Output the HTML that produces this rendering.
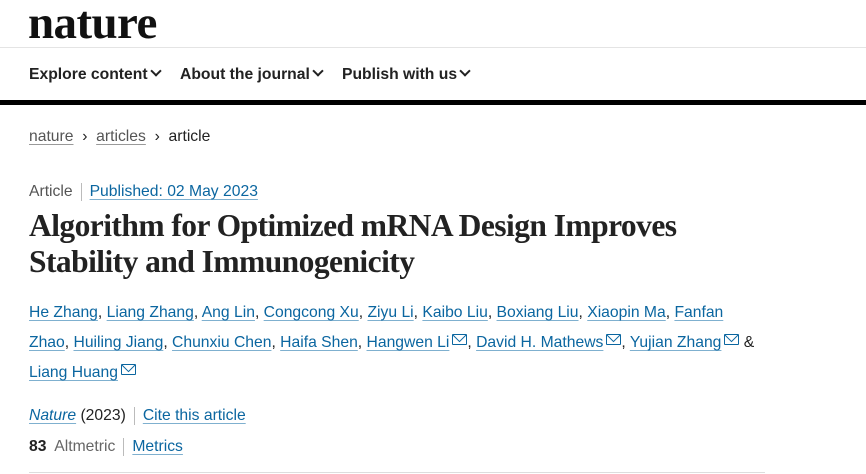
<!DOCTYPE html>
<html><head><meta charset="utf-8"><style>
body{margin:0;width:866px;height:474px;background:#fff;overflow:hidden;position:relative;font-family:"Liberation Sans",sans-serif;color:#222}
.a{position:absolute;white-space:nowrap}
a,.l{color:#0b66a0;text-decoration:underline;text-decoration-color:#7fb0cf;text-underline-offset:3px}
.g{color:#555;text-decoration-color:#999}
.nav{font-size:15.7px;font-weight:bold;color:#222}
.car{display:inline-block;width:6px;height:6px;border-right:2px solid #222;border-bottom:2px solid #222;transform:rotate(45deg);margin:0 0 4px 4px}
.sep{display:inline-block;width:1px;height:18px;background:#bbb;vertical-align:middle;margin:0 8px}
.m{display:inline-block;width:13px;height:9px;border:1.3px solid #0b66a0;border-radius:1px;vertical-align:2px;margin-left:3px;position:relative;overflow:hidden}
.m:after{content:"";position:absolute;left:1px;top:-6px;width:9px;height:9px;border:1.3px solid #0b66a0;transform:rotate(45deg)}
.au{font-size:15.7px;line-height:30px}
</style></head><body>
<div class="a" style="left:28px;top:-4px;font-family:'Liberation Serif',serif;font-weight:bold;font-size:47px;letter-spacing:-0.6px;color:#111">nature</div>
<div class="a" style="left:0;top:47px;width:866px;height:1px;background:#e4e4e4"></div>
<div class="a nav" style="left:29px;top:66px">Explore content<span class="car"></span></div>
<div class="a nav" style="left:180px;top:66px">About the journal<span class="car"></span></div>
<div class="a nav" style="left:342px;top:66px">Publish with us<span class="car"></span></div>
<div class="a" style="left:0;top:100px;width:866px;height:5px;background:#000"></div>
<div class="a" style="left:29px;top:128px;font-size:15.7px"><a class="g" style="color:#555">nature</a> &nbsp;›&nbsp; <a class="g" style="color:#555">articles</a> &nbsp;›&nbsp; article</div>
<div class="a" style="left:29px;top:183px;font-size:15.7px;color:#555">Article<span class="sep"></span><a>Published: 02 May 2023</a></div>
<div class="a" style="left:29px;top:208px;font-family:'Liberation Serif',serif;font-weight:bold;font-size:31.5px;line-height:36px;letter-spacing:-0.55px;color:#222">Algorithm for Optimized mRNA Design Improves<br>Stability and Immunogenicity</div>
<div class="a au" style="left:29px;top:298px"><a>He Zhang</a>, <a>Liang Zhang</a>, <a>Ang Lin</a>, <a>Congcong Xu</a>, <a>Ziyu Li</a>, <a>Kaibo Liu</a>, <a>Boxiang Liu</a>, <a>Xiaopin Ma</a>, <a>Fanfan</a><br><a>Zhao</a>, <a>Huiling Jiang</a>, <a>Chunxiu Chen</a>, <a>Haifa Shen</a>, <a>Hangwen Li</a><span class="m"></span>, <a>David H. Mathews</a><span class="m"></span>, <a>Yujian Zhang</a><span class="m"></span> &amp;<br><a>Liang Huang</a><span class="m"></span></div>
<div class="a" style="left:29px;top:407px;font-size:15.7px"><a><i>Nature</i></a> (2023)<span class="sep"></span><a>Cite this article</a></div>
<div class="a" style="left:29px;top:438px;font-size:15.7px;color:#666"><b style="color:#222">83</b>&nbsp; Altmetric<span class="sep"></span><a>Metrics</a></div>
<div class="a" style="left:29px;top:472px;width:736px;height:1px;background:#ddd"></div>
</body></html>
